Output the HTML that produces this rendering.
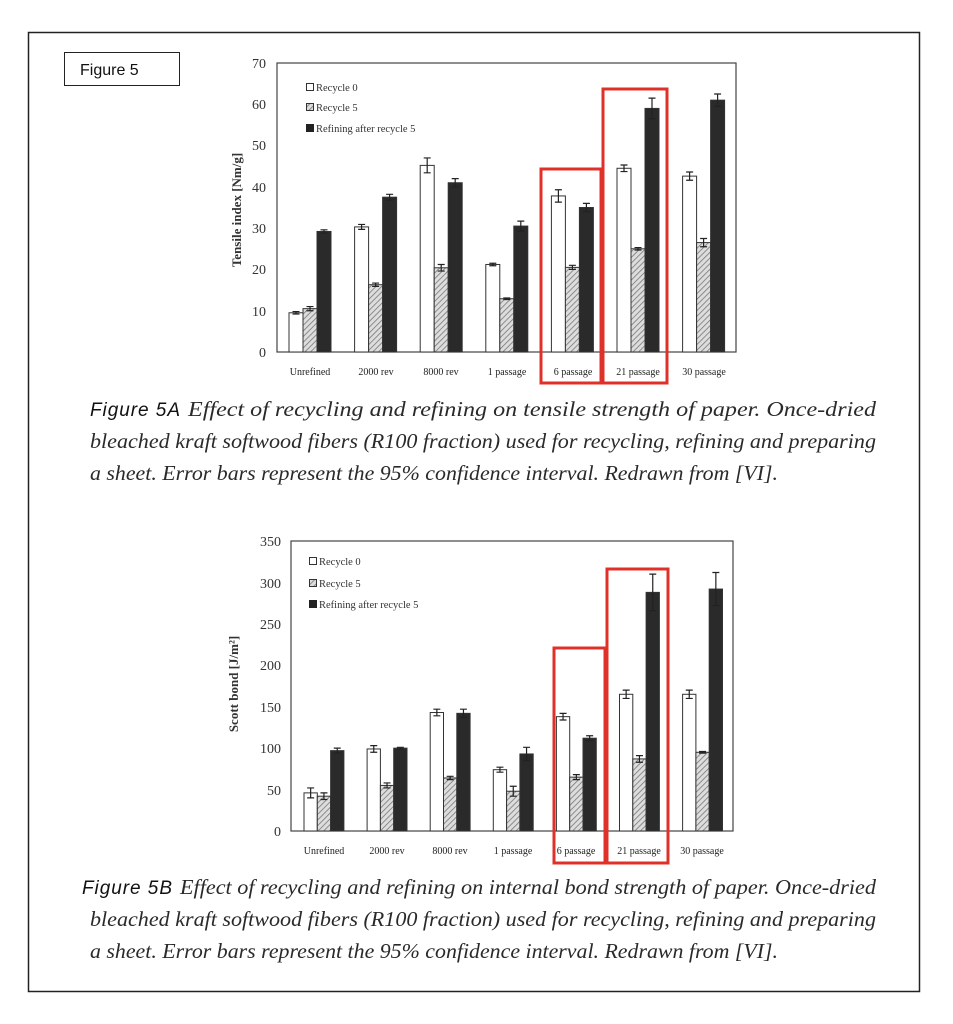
<!DOCTYPE html>
<html><head><meta charset="utf-8"><style>
html,body{margin:0;padding:0;background:#fff;}
svg{display:block}
.tk{font-family:"Liberation Serif",serif;font-size:14px;fill:#333}
.xl{font-family:"Liberation Serif",serif;font-size:10px;fill:#222}
.lg{font-family:"Liberation Serif",serif;font-size:10.5px;fill:#333}
.yl{font-family:"Liberation Serif",serif;font-size:13px;font-weight:bold;fill:#333}
.cap{font-family:"Liberation Serif",serif;font-style:italic;font-size:21px;fill:#2a2a2a}
.fig{font-family:"Liberation Sans",sans-serif;font-style:italic;font-size:19px;fill:#111}
</style></head><body>
<svg id="s" width="953" height="1024" xmlns="http://www.w3.org/2000/svg">
<defs><pattern id="h" width="4" height="4" patternUnits="userSpaceOnUse" patternTransform="rotate(45)"><rect width="4" height="4" fill="#ddd"/><line x1="0" y1="0" x2="0" y2="4" stroke="#777" stroke-width="1.6"/></pattern></defs>
<rect x="28.5" y="32.5" width="891" height="959" fill="none" stroke="#222" stroke-width="1.5"/>
<rect x="64.5" y="52.5" width="115" height="33" fill="none" stroke="#222" stroke-width="1"/>
<text x="80" y="75" font-family="Liberation Sans,sans-serif" font-size="16" fill="#111">Figure 5</text>

<rect x="277" y="63" width="459" height="289" fill="none" stroke="#444" stroke-width="1.2"/>
<g class="tk" text-anchor="end">
<text x="266" y="357">0</text><text x="266" y="316">10</text><text x="266" y="274">20</text><text x="266" y="233">30</text><text x="266" y="192">40</text><text x="266" y="150">50</text><text x="266" y="109">60</text><text x="266" y="68">70</text></g>
<text class="yl" transform="translate(241,210) rotate(-90)" text-anchor="middle">Tensile index [Nm/g]</text>
<g class="xl" text-anchor="middle">
<text x="310" y="375">Unrefined</text><text x="376" y="375">2000 rev</text><text x="441" y="375">8000 rev</text><text x="507" y="375">1 passage</text><text x="573" y="375">6 passage</text><text x="638" y="375">21 passage</text><text x="704" y="375">30 passage</text></g>
<g class="lg"><rect x="306.5" y="83.5" width="7" height="7" fill="#fff" stroke="#333"/><text x="316" y="91">Recycle 0</text>
<rect x="306.5" y="103.5" width="7" height="7" fill="url(#h)" stroke="#333"/><text x="316" y="111">Recycle 5</text>
<rect x="306.5" y="124.5" width="7" height="7" fill="#222" stroke="#222"/><text x="316" y="132">Refining after recycle 5</text></g>
<g id="b1"></g>
<rect x="541" y="169" width="60" height="214" fill="none" stroke="#e0302a" stroke-width="3"/>
<rect x="603" y="89" width="64" height="294" fill="none" stroke="#e0302a" stroke-width="3"/>

<text class="fig" x="90" y="416" textLength="90">Figure 5A</text>
<text class="cap" x="188" y="416" textLength="688" lengthAdjust="spacingAndGlyphs">Effect of recycling and refining on tensile strength of paper. Once-dried</text>
<text class="cap" x="90" y="448" textLength="786" lengthAdjust="spacingAndGlyphs">bleached kraft softwood fibers (R100 fraction) used for recycling, refining and preparing</text>
<text class="cap" x="90" y="480" textLength="688" lengthAdjust="spacingAndGlyphs">a sheet. Error bars represent the 95% confidence interval. Redrawn from [VI].</text>

<rect x="291" y="541" width="442" height="290" fill="none" stroke="#444" stroke-width="1.2"/>
<g class="tk" text-anchor="end">
<text x="281" y="836">0</text><text x="281" y="795">50</text><text x="281" y="753">100</text><text x="281" y="712">150</text><text x="281" y="670">200</text><text x="281" y="629">250</text><text x="281" y="588">300</text><text x="281" y="546">350</text></g>
<text class="yl" transform="translate(238,684) rotate(-90)" text-anchor="middle">Scott bond [J/m²]</text>
<g class="xl" text-anchor="middle">
<text x="324" y="854">Unrefined</text><text x="387" y="854">2000 rev</text><text x="450" y="854">8000 rev</text><text x="513" y="854">1 passage</text><text x="576" y="854">6 passage</text><text x="639" y="854">21 passage</text><text x="702" y="854">30 passage</text></g>
<g class="lg"><rect x="309.5" y="557.5" width="7" height="7" fill="#fff" stroke="#333"/><text x="319" y="565">Recycle 0</text>
<rect x="309.5" y="579.5" width="7" height="7" fill="url(#h)" stroke="#333"/><text x="319" y="587">Recycle 5</text>
<rect x="309.5" y="600.5" width="7" height="7" fill="#222" stroke="#222"/><text x="319" y="608">Refining after recycle 5</text></g>
<g id="b2"></g>
<rect x="554" y="648" width="51" height="215" fill="none" stroke="#e0302a" stroke-width="3"/>
<rect x="607" y="569" width="61" height="294" fill="none" stroke="#e0302a" stroke-width="3"/>

<text class="fig" x="82" y="894" textLength="90">Figure 5B</text>
<text class="cap" x="180" y="894" textLength="696" lengthAdjust="spacingAndGlyphs">Effect of recycling and refining on internal bond strength of paper. Once-dried</text>
<text class="cap" x="90" y="926" textLength="786" lengthAdjust="spacingAndGlyphs">bleached kraft softwood fibers (R100 fraction) used for recycling, refining and preparing</text>
<text class="cap" x="90" y="958" textLength="688" lengthAdjust="spacingAndGlyphs">a sheet. Error bars represent the 95% confidence interval. Redrawn from [VI].</text>
</svg>
<script>
function draw(id,x0,gap,off,bw,y0,scale,vals,errs){
 var g=document.getElementById(id),fills=["#fff","url(#h)","#2a2a2a"],h="";
 for(var i=0;i<7;i++)for(var k=0;k<3;k++){
  var v=vals[k][i],e=errs[k][i],x=x0+i*gap+off+k*bw,y=y0-v*scale;
  h+='<rect x="'+x+'" y="'+y+'" width="'+bw+'" height="'+(v*scale)+'" fill="'+fills[k]+'" stroke="#333" stroke-width="1"/>';
  var cx=x+bw/2,t=y-e*scale,b=y+e*scale;
  h+='<path d="M'+cx+' '+t+'V'+b+'M'+(cx-3.5)+' '+t+'h7M'+(cx-3.5)+' '+b+'h7" stroke="#222" stroke-width="1.2" fill="none"/>';
 }
 g.innerHTML=h;
}
draw("b1",277,65.6,12,14,352,289/70,
 [[9.5,30.3,45.2,21.2,37.8,44.5,42.6],[10.5,16.3,20.4,12.9,20.5,25,26.5],[29.2,37.5,41,30.5,35,59,61]],
 [[0.3,0.6,1.8,0.3,1.5,0.8,1],[0.5,0.4,0.8,0.2,0.5,0.3,1],[0.4,0.7,1,1.2,1,2.5,1.5]]);
draw("b2",291,63.1,13,13.3,831,290/350,
 [[46,99,143,74,138,165,165],[42,55,64,48,65,87,95],[97,100,142,93,112,288,292]],
 [[6,4,4,3,4,5,5],[4,3,2,6,3,4,1],[3,1,5,8,3,22,20]]);
</script>
</body></html>
